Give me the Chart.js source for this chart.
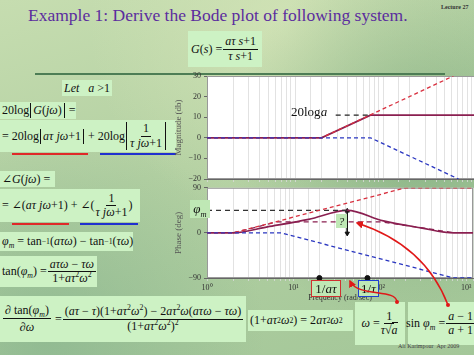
<!DOCTYPE html>
<html>
<head>
<meta charset="utf-8">
<script src="https://cdn.jsdelivr.net/npm/chart.js@4"></script>
<style>
  html, body { margin: 0; padding: 0; }
  body {
    width: 474px; height: 355px; overflow: hidden; position: relative;
    font-family: 'Liberation Serif', 'DejaVu Serif', serif;
    background:
      radial-gradient(circle at 88% 40%, rgba(110,160,115,0.55), transparent 40%),
      radial-gradient(circle at 10% 95%, rgba(120,170,135,0.5), transparent 40%),
      radial-gradient(circle at 60% 8%, rgba(215,230,185,0.7), transparent 45%),
      linear-gradient(165deg, #c6ddb0 0%, #b3d0a2 45%, #a4c799 100%);
  }
  .b { position: absolute; background: #cdf2c4; color: #111; white-space: nowrap; font-size: 12px;
       display: flex; align-items: center; box-sizing: border-box; padding: 0 2px; }
  .f { display: inline-flex; flex-direction: column; align-items: center; vertical-align: middle;
       margin: 0 1px; line-height: 1.1; }
  .f > span:first-child { border-bottom: 1px solid #111; padding: 0 2px; }
  .abs { border-left: 1px solid #111; border-right: 1px solid #111; padding: 0 2px;
         display: inline-flex; align-items: center; margin: 0 1px; }
  sup, sub { font-size: 65%; line-height: 0; }
  .ul { position: absolute; height: 2px; }
  .wrap { position: absolute; }
  #title { position: absolute; left: 28px; top: 5px; font-size: 17.5px; color: #5b2d9e; white-space: nowrap; }
  #lect { position: absolute; left: 441px; top: 4px; font-size: 6px; font-weight: bold; color: #333; }
  #foot { position: absolute; left: 398px; top: 343px; font-size: 6px; color: #444; white-space: nowrap; }
  .tag { position: absolute; font-size: 13px; color: #111; white-space: nowrap; }
  .bx { position: absolute; box-sizing: border-box; background: #bfe8b5; font-size: 13px; color: #111;
        display: flex; align-items: center; justify-content: center; white-space: nowrap; }
  svg { position: absolute; left: 0; top: 0; }
</style>
</head>
<body>
<script>
// magnitude plot (dB)
const redMagW = [1, 20, 630];
const redMagDb = [0, 0, 30];
const blueMagW = [1, 72, 720];
const blueMagDb = [0, 0, -20];
const sumMagW = [1, 20, 72, 1200];
const sumMagDb = [0, 0, 11, 11];
const guideMagW = [29, 72];
const guideMagDb = [11, 11];

// phase plot (deg)
const redPhW = [1, 2, 200, 1200];
const redPhDeg = [0, 0, 90, 90];
const bluePhW = [1, 7.2, 720, 1200];
const bluePhDeg = [0, 0, -90, -90];
const asymPhW = [2, 6.5, 105, 750];
const asymPhDeg = [0, 22, 22, 0];
const exactPhW = [1, 2, 5, 15, 42, 110, 300, 720, 1200];
const exactPhDeg = [0, 0, 12, 27, 45, 24, 10, 0, 0];
const phiMW = [1, 42];
const phiMDeg = [45, 45];
const markW = [42, 42];
const markDeg = [44, -1];
const cornerW = [20, 72];
const cornerDeg = [-90, -90];

// tick labels
const magTicks = [-20, -10, 0, 10, 20, 30];
const phTicks = [-90, 0, 90];
const decadeLabels = { 1: '10⁰', 10: '10¹', 100: '10²', 1000: '10³' };
</script>

<div id="title">Example 1: Derive the Bode plot of following system.</div>
<div id="lect">Lecture 27</div>
<div style="position:absolute;left:35px;top:73px;width:410px;height:2px;background:#4d7d55"></div>

<div class="b" style="left:188px;top:31px;width:74px;height:36px;justify-content:center">
  <i>G</i>(<i>s</i>)&nbsp;=<span class="f"><span><i>aτ s</i>+1</span><span><i>τ s</i>+1</span></span>
</div>

<div class="b" style="left:62px;top:80px;width:50px;height:16px"><i>Let&nbsp;&nbsp;&nbsp;a</i>&nbsp;&gt;1</div>

<div class="b" style="left:0;top:102px;width:76px;height:17px">20log<span class="abs"><i>G</i>(<i>jω</i>)</span>&nbsp;=</div>

<div class="b" style="left:0;top:120px;width:176px;height:32px">
  =&nbsp;20log<span class="abs"><i>aτ&nbsp;jω</i>+1</span>&nbsp;+&nbsp;20log<span class="abs"><span class="f"><span>1</span><span><i>τ&nbsp;jω</i>+1</span></span></span>
</div>
<div class="ul" style="left:12px;top:153px;width:76px;background:#e02828"></div>
<div class="ul" style="left:100px;top:153px;width:76px;background:#2030d0"></div>

<div class="b" style="left:0;top:171px;width:55px;height:16px">∠<i>G</i>(<i>jω</i>)&nbsp;=</div>

<div class="b" style="left:0;top:189px;width:140px;height:33px">
  =&nbsp;∠(<i>aτ&nbsp;jω</i>+1)&nbsp;+&nbsp;∠(<span class="f"><span>1</span><span><i>τ&nbsp;jω</i>+1</span></span>)
</div>
<div class="ul" style="left:12px;top:223px;width:57px;background:#e02828"></div>
<div class="ul" style="left:80px;top:223px;width:58px;background:#2030d0"></div>

<div class="b" style="left:0;top:232px;width:133px;height:19px"><i>φ<sub>m</sub></i>&nbsp;=&nbsp;tan<sup>−1</sup>(<i>aτω</i>)&nbsp;−&nbsp;tan<sup>−1</sup>(<i>τω</i>)</div>

<div class="b" style="left:0;top:256px;width:97px;height:31px">
  tan(<i>φ<sub>m</sub></i>)&nbsp;=<span class="f"><span><i>aτω</i>&nbsp;−&nbsp;<i>τω</i></span><span>1+<i>aτ</i><sup>2</sup><i>ω</i><sup>2</sup></span></span>
</div>

<div class="b" style="left:0;top:296px;width:246px;height:46px">
  <span class="f"><span>∂&nbsp;tan(<i>φ<sub>m</sub></i>)</span><span style="padding-top:2px">∂<i>ω</i></span></span>&nbsp;=<span class="f"><span>(<i>aτ</i>&nbsp;−&nbsp;<i>τ</i>)(1+<i>aτ</i><sup>2</sup><i>ω</i><sup>2</sup>)&nbsp;−&nbsp;2<i>aτ</i><sup>2</sup><i>ω</i>(<i>aτω</i>&nbsp;−&nbsp;<i>τω</i>)</span><span>(1+<i>aτ</i><sup>2</sup><i>ω</i><sup>2</sup>)<sup>2</sup></span></span>
</div>

<div class="b" style="left:248px;top:310px;width:105px;height:21px">(1+<i>aτ</i><sup>2</sup><i>ω</i><sup>2</sup>)&nbsp;=&nbsp;2<i>aτ</i><sup>2</sup><i>ω</i><sup>2</sup></div>

<div class="b" style="left:355px;top:302px;width:50px;height:43px;justify-content:center"><i>ω</i>&nbsp;=<span class="f"><span>1</span><span><i>τ</i>√<span style="border-top:1px solid #111"><i>a</i></span></span></span></div>

<div class="b" style="left:408px;top:302px;width:66px;height:43px;justify-content:center">sin&nbsp;<i>φ<sub>m</sub></i>&nbsp;=<span class="f"><span><i>a</i>&nbsp;−&nbsp;1</span><span><i>a</i>&nbsp;+&nbsp;1</span></span></div>

<div id="foot">Ali Karimpour&nbsp;&nbsp;Apr 2009</div>

<div class="wrap" style="left:170px;top:60px"><canvas id="mag" width="308" height="130"></canvas></div>
<div class="wrap" style="left:170px;top:180px"><canvas id="ph" width="308" height="125"></canvas></div>

<div class="tag" style="left:291px;top:104px">20log<i>a</i></div>
<div class="bx" style="left:190px;top:200px;width:20px;height:18px"><i>φ<sub>m</sub></i></div>
<div class="bx" style="left:336px;top:214px;width:11px;height:14px;font-size:11px"><i>?</i></div>
<div class="bx" style="left:311px;top:280px;width:30px;height:17px;border:1.5px solid #d03030">1/<i>aτ</i></div>
<div class="bx" style="left:358px;top:280px;width:21px;height:17px;border:1.5px solid #2040d0">1/<i>τ</i></div>

<svg width="474" height="355">
  <defs>
    <marker id="ah" viewBox="0 0 10 10" refX="8" refY="5" markerWidth="5" markerHeight="5" orient="auto-start-reverse">
      <path d="M0,0 L10,5 L0,10 z" fill="#e01818"/>
    </marker>
  </defs>
  <path d="M448,305 Q425,245 357,223" stroke="#e01818" stroke-width="1.5" fill="none" marker-end="url(#ah)"/>
  <circle cx="448" cy="305" r="2" fill="#e01818"/>
  <path d="M397,302 C396,288 358,298 350,281" stroke="#e01818" stroke-width="1.5" fill="none" marker-end="url(#ah)"/>
  <circle cx="397" cy="302" r="2" fill="#e01818"/>
</svg>

<script>
const PURPLE = '#8a1f50';
const RED = '#d8303f';
const BLUE = '#2a36c0';
const TICKFONT = { family: "'Liberation Serif', serif", size: 8 };

function pts(xs, ys) {
  return xs.map((x, i) => ({ x: x, y: ys[i] }));
}
function minus(v) {
  return v < 0 ? '−' + Math.abs(v) : String(v);
}

const plotBg = {
  id: 'plotBg',
  beforeDraw(chart) {
    const a = chart.chartArea, ctx = chart.ctx;
    ctx.save();
    ctx.fillStyle = '#fff';
    ctx.fillRect(a.left, a.top, a.right - a.left, a.bottom - a.top);
    ctx.restore();
  },
  beforeDatasetsDraw(chart) {
    const a = chart.chartArea, ctx = chart.ctx;
    ctx.save();
    ctx.strokeStyle = '#999';
    ctx.lineWidth = 1;
    ctx.strokeRect(a.left + 0.5, a.top + 0.5, a.right - a.left - 1, a.bottom - a.top - 1);
    ctx.restore();
  }
};

function xScale(showTicks) {
  return {
    type: 'logarithmic', min: 1, max: 1200,
    ticks: {
      display: showTicks, autoSkip: false, maxRotation: 0, padding: 2,
      font: TICKFONT, color: '#333',
      callback: v => decadeLabels[v] || ''
    },
    grid: { color: '#dadada', lineWidth: 0.8, tickLength: 3 },
    border: { color: '#666' },
    afterFit(s) { s.height = showTicks ? 27 : 0; }
  };
}

function yScale(lo, hi, step, ticks, label) {
  return {
    min: lo, max: hi,
    afterBuildTicks(s) { s.ticks = ticks.map(v => ({ value: v })); },
    ticks: { font: TICKFONT, color: '#333', padding: 3, callback: v => minus(v) },
    grid: { drawOnChartArea: false, tickLength: 3, color: '#666' },
    border: { color: '#666' },
    title: { display: true, text: label, color: '#555', font: { family: "'Liberation Serif', serif", size: 9 }, padding: { top: 3, bottom: 0 } },
    afterFit(s) { s.width = 37; }
  };
}

const common = {
  responsive: false,
  animation: false,
  elements: { point: { radius: 0 }, line: { tension: 0 } },
  plugins: { legend: { display: false }, tooltip: { enabled: false } }
};

new Chart(document.getElementById('mag'), {
  type: 'line',
  data: {
    datasets: [
      { data: pts(blueMagW, blueMagDb), borderColor: BLUE, borderDash: [4, 3], borderWidth: 1.3 },
      { data: pts(redMagW, redMagDb), borderColor: RED, borderDash: [4, 3], borderWidth: 1.3 },
      { data: pts(guideMagW, guideMagDb), borderColor: '#222', borderDash: [5, 4], borderWidth: 1.3 },
      { data: pts(sumMagW, sumMagDb), borderColor: PURPLE, borderWidth: 1.8 }
    ]
  },
  options: Object.assign({}, common, {
    layout: { padding: { top: 16, bottom: 11, left: 0, right: 0 } },
    scales: {
      x: xScale(false),
      y: yScale(-20, 30, 10, magTicks, 'Magnitude (db)')
    }
  }),
  plugins: [plotBg]
});

new Chart(document.getElementById('ph'), {
  type: 'line',
  data: {
    datasets: [
      { data: pts(bluePhW, bluePhDeg), borderColor: BLUE, borderDash: [4, 3], borderWidth: 1.3 },
      { data: pts(redPhW, redPhDeg), borderColor: RED, borderDash: [4, 3], borderWidth: 1.3 },
      { data: pts(phiMW, phiMDeg), borderColor: '#333', borderDash: [5, 4], borderWidth: 1.2 },
      { data: pts(asymPhW, asymPhDeg), borderColor: PURPLE, borderDash: [5, 4], borderWidth: 1.3 },
      { data: pts(exactPhW, exactPhDeg), borderColor: PURPLE, borderWidth: 1.6, cubicInterpolationMode: 'monotone' },
      { data: pts(markW, markDeg), borderColor: '#111', backgroundColor: '#111', borderWidth: 1,
        pointStyle: 'triangle', pointRadius: 2.5, pointRotation: [0, 180] },
      { data: pts(cornerW, cornerDeg), showLine: false, pointRadius: 2.5, backgroundColor: '#111', borderColor: '#111', clip: false }
    ]
  },
  options: Object.assign({}, common, {
    layout: { padding: { top: 7, bottom: 0, left: 0, right: 0 } },
    scales: {
      x: Object.assign(xScale(true), {
        title: { display: true, text: 'Frequency (rad/sec)', color: '#333', font: { family: "'Liberation Serif', serif", size: 8 }, padding: { top: 0, bottom: 2 } }
      }),
      y: yScale(-90, 90, 90, phTicks, 'Phase (deg)')
    }
  }),
  plugins: [plotBg]
});
</script>
</body>
</html>
